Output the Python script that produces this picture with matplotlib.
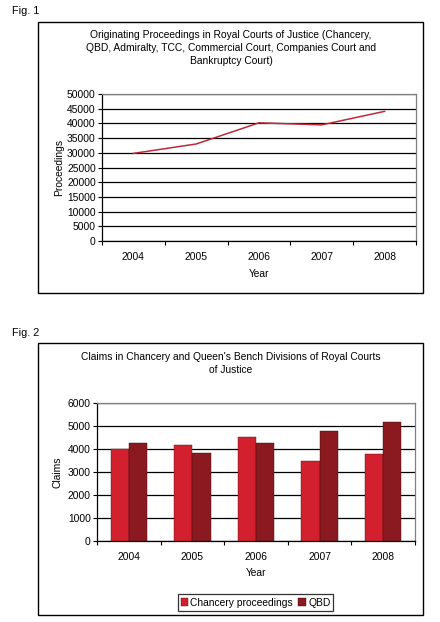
import matplotlib
matplotlib.use("Agg")
import matplotlib.pyplot as plt
from matplotlib.patches import Rectangle
import numpy as np

plt.rcParams['font.family'] = ['Liberation Sans', 'DejaVu Sans']

years = ["2004", "2005", "2006", "2007", "2008"]
proceedings = [29800, 33000, 40200, 39500, 44100]
chancery = [4000, 4190, 4540, 3500, 3800]
qbd = [4270, 3840, 4240, 4800, 5190]

title1 = ("Originating Proceedings in Royal Courts of Justice (Chancery,\n"
          "QBD, Admiralty, TCC, Commercial Court, Companies Court and\n"
          "Bankruptcy Court)")
title2 = "Claims in Chancery and Queen's Bench Divisions of Royal Courts\nof Justice"

W, H = 440, 622
fig = plt.figure(figsize=(4.4, 6.22), dpi=100)
fs = 7.4

def fx(px):
    return px / W

def fy(py):
    return 1 - py / H

# frames
for (x0, y0, x1, y1) in [(38, 22, 423, 293), (38, 343, 423, 615)]:
    fig.patches.append(Rectangle((fx(x0), fy(y1)), fx(x1 - x0), (y1 - y0) / H,
                                 transform=fig.transFigure, fill=False,
                                 edgecolor='black', linewidth=1.0))

fig.text(fx(12), fy(11), "Fig. 1", fontsize=7.8, ha='left', va='center')
fig.text(fx(12), fy(333), "Fig. 2", fontsize=7.8, ha='left', va='center')

def style_axes(ax):
    ax.spines['left'].set_color('black')
    ax.spines['bottom'].set_color('black')
    ax.spines['top'].set_color('#808080')
    ax.spines['right'].set_color('#808080')
    for s in ax.spines.values():
        s.set_linewidth(0.9)
    ax.set_xlim(-0.5, len(years) - 0.5)
    ax.set_xticks(np.arange(-0.5, len(years), 1.0))
    ax.set_xticklabels([])
    ax.set_xticks(np.arange(len(years)), minor=True)
    ax.set_xticklabels(years, minor=True, fontsize=fs)
    ax.tick_params(axis='x', which='major', direction='out', length=3, width=0.8)
    ax.tick_params(axis='x', which='minor', length=0, pad=8)
    ax.tick_params(axis='y', direction='out', length=3, width=0.8, labelsize=fs, pad=1.5)
    ax.yaxis.grid(True, color='black', linewidth=0.9)
    ax.set_axisbelow(True)

# Fig 1
ax1 = fig.add_axes([fx(102), fy(241), fx(416 - 102), (241 - 94) / H])
x = np.arange(len(years))
ax1.plot(x, proceedings, color='#C02838', linewidth=1.1)
ax1.set_ylim(0, 50000)
ax1.set_yticks(np.arange(0, 50001, 5000))
style_axes(ax1)
ax1.set_xlabel("Year", fontsize=fs, labelpad=5)
ax1.set_ylabel("Proceedings", fontsize=fs, labelpad=2)
fig.text(fx(231), fy(48), title1, fontsize=fs, ha='center', va='center',
         linespacing=1.4)

# Fig 2
ax2 = fig.add_axes([fx(97), fy(541), fx(415 - 97), (541 - 403) / H])
bw = 1 / 3.5
b1 = ax2.bar(x - bw / 2, chancery, width=bw, color='#D2202F', edgecolor='#5a1015',
             linewidth=0.3, label='Chancery proceedings', zorder=3)
b2 = ax2.bar(x + bw / 2, qbd, width=bw, color='#8A1A20', edgecolor='#3a0a0d',
             linewidth=0.3, label='QBD', zorder=3)
ax2.set_ylim(0, 6000)
ax2.set_yticks(np.arange(0, 6001, 1000))
style_axes(ax2)
ax2.set_xlabel("Year", fontsize=fs, labelpad=4)
ax2.set_ylabel("Claims", fontsize=fs, labelpad=4)
fig.text(fx(231), fy(363.5), title2, fontsize=fs, ha='center', va='center',
         linespacing=1.4)

leg = fig.legend(handles=[b1, b2], labels=['Chancery proceedings', 'QBD'],
                 loc='center', bbox_to_anchor=(fx(255.5), fy(602.5)), ncol=2,
                 fontsize=fs, frameon=True, fancybox=False, edgecolor='black',
                 handlelength=0.7, handleheight=0.7, handletextpad=0.25,
                 columnspacing=0.5, borderpad=0.3, borderaxespad=0)
leg.get_frame().set_linewidth(0.9)

fig.savefig("out.png", dpi=100)
